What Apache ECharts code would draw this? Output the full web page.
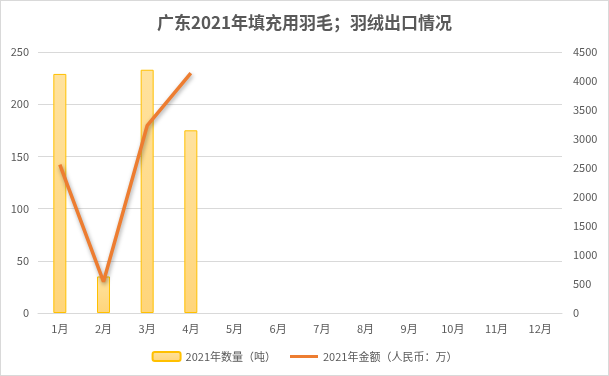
<!DOCTYPE html>
<html><head><meta charset="utf-8">
<script src="https://cdn.jsdelivr.net/npm/echarts@6/dist/echarts.min.js"></script>
<style>html,body{margin:0;padding:0;background:#fff}#c{width:609px;height:376px;box-sizing:border-box;border:1px solid #d9d9d9}</style>
</head><body><div id="c"></div>
<script>
const categories = ['1月','2月','3月','4月','5月','6月','7月','8月','9月','10月','11月','12月'];
const quantity = [229, 35, 233, 175, null, null, null, null, null, null, null, null];
const amount = [2560, 540, 3230, 4135];
const leftTicks = [0, 250, 50];
const rightTicks = [0, 4500, 500];
const chart = echarts.init(document.getElementById('c'));
const font = '"Microsoft YaHei","Noto Sans CJK SC",sans-serif';
chart.setOption({
  animation: false,
  title: { text: '广东2021年填充用羽毛；羽绒出口情况', left: 'center', top: 8,
    textStyle: { color: '#595959', fontSize: 17, fontWeight: 'bold', fontFamily: font } },
  legend: { bottom: 8, itemGap: 14, itemWidth: 28, itemHeight: 9, symbolKeepAspect: true,
    textStyle: { color: '#595959', fontSize: 11, fontFamily: font },
    data: [{ name: '2021年数量（吨）' }, { name: '2021年金额（人民币：万）', icon: 'path://M0,0H28V3H0Z', itemStyle: { color: '#ED7D31' } }] },
  grid: { left: 37, right: 46, top: 51, bottom: 62 },
  xAxis: { type: 'category', data: categories,
    axisLine: { lineStyle: { color: '#d9d9d9' } }, axisTick: { show: false },
    axisLabel: { color: '#595959', fontSize: 11, margin: 10, fontFamily: font } },
  yAxis: [
    { type: 'value', min: leftTicks[0], max: leftTicks[1], interval: leftTicks[2],
      axisLabel: { color: '#595959', fontSize: 11, margin: 9, fontFamily: font },
      splitLine: { lineStyle: { color: '#d9d9d9' } }, axisLine: { show: false }, axisTick: { show: false } },
    { type: 'value', min: rightTicks[0], max: rightTicks[1], interval: rightTicks[2],
      axisLabel: { color: '#595959', fontSize: 11, margin: 11, fontFamily: font, formatter: v => String(v) },
      splitLine: { show: false }, axisLine: { show: false }, axisTick: { show: false } }
  ],
  series: [
    { name: '2021年数量（吨）', type: 'bar', data: quantity, barWidth: 13, yAxisIndex: 0,
      itemStyle: { color: new echarts.graphic.LinearGradient(0,0,0,1,[{offset:0,color:'#FFE29E'},{offset:1,color:'#FFD57A'}]),
        borderColor: '#FFC000', borderWidth: 1 } },
    { name: '2021年金额（人民币：万）', type: 'line', data: amount, yAxisIndex: 1, symbol: 'none',
      lineStyle: { color: '#ED7D31', width: 3.5, shadowColor: 'rgba(0,0,0,0.35)', shadowBlur: 4, shadowOffsetX: 1, shadowOffsetY: 2 },
      itemStyle: { color: '#ED7D31' } }
  ]
});
</script></body></html>
